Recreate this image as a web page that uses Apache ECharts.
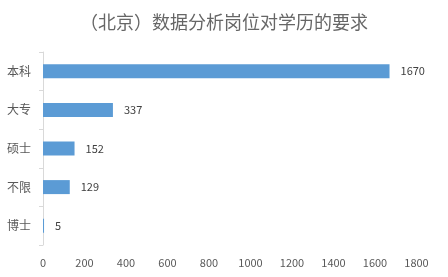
<!DOCTYPE html>
<html><head><meta charset="utf-8">
<script src="https://cdn.jsdelivr.net/npm/echarts@6/dist/echarts.min.js"></script>
<style>html,body{margin:0;padding:0;background:#fff}#c{width:448px;height:277px}</style>
</head><body><div id="c"></div>
<script>
const categories = ['本科','大专','硕士','不限','博士'];
const values = [1670, 337, 152, 129, 5];
const xTicks = [0,200,400,600,800,1000,1200,1400,1600,1800];

const chart = echarts.init(document.getElementById('c'), null, {renderer:'canvas'});
chart.setOption({
  animation:false,
  title:{text:'（北京）数据分析岗位对学历的要求', left:'center', top:8,
    textStyle:{fontFamily:'Noto Sans CJK SC', fontSize:18, fontWeight:'normal', color:'#666666'}},
  grid:{left:43, right:31.5, top:52, bottom:32, containLabel:false},
  xAxis:{type:'value', min:xTicks[0], max:xTicks[xTicks.length-1], interval:200,
    axisLine:{show:false}, axisTick:{show:false}, splitLine:{show:false},
    axisLabel:{color:'#595959', fontSize:11, fontFamily:'Noto Sans CJK SC', margin:12,
      formatter:function(v){return String(v);}}},
  yAxis:{type:'category', data:categories, inverse:true,
    axisLine:{show:true, lineStyle:{color:'#d9d9d9'}},
    axisTick:{show:true, length:4, lineStyle:{color:'#d9d9d9'}},
    axisLabel:{color:'#595959', fontSize:12, fontFamily:'Noto Sans CJK SC', margin:12}},
  series:[{type:'bar', data:values, barWidth:14, itemStyle:{color:'#5b9bd5'},
    label:{show:true, position:'right', distance:11, color:'#404040', fontSize:11, fontFamily:'Noto Sans CJK SC'}}]
});
</script></body></html>
